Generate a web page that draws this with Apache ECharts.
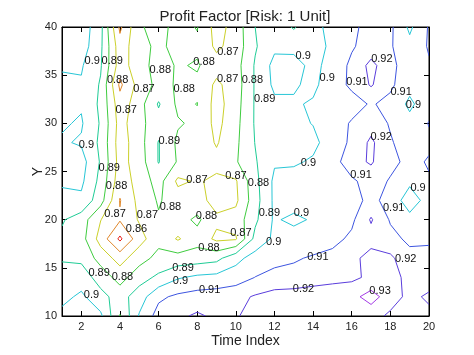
<!DOCTYPE html>
<html><head><meta charset="utf-8">
<script src="https://cdn.jsdelivr.net/npm/echarts@6/dist/echarts.min.js"></script>
<style>html,body{margin:0;padding:0;background:#fff}#c{width:474px;height:355px}</style>
</head><body><div id="c"></div>
<script>
// ---- data ----
const timeIndex = [1,2,3,4,5,6,7,8,9,10,11,12,13,14,15,16,17,18,19,20];
const yValues = [40,38,36,34,32,30,28,26,24,22,20,18,16,14,12,10];
const pfY40 = [.903,.906,.893,.858,.879,.883,.877,.8805,.866,.874,.890,.896,.889,.897,.903,.907,.915,.912,.898,.911];
const pfY38 = [.903,.905,.892,.864,.877,.882,.877,.878,.868,.874,.889,.898,.897,.896,.902,.909,.914,.911,.903,.911];
const pfY36 = [.901,.901,.891,.865,.876,.884,.879,.881,.874,.876,.891,.903,.904,.897,.904,.912,.923,.913,.904,.909];
const pfY34 = [.898,.899,.889,.858,.874,.883,.879,.878,.868,.875,.891,.902,.901,.898,.905,.912,.921,.912,.903,.910];
const pfY32 = [.898,.899,.888,.864,.876,.891,.878,.8802,.866,.876,.891,.898,.899,.901,.906,.906,.911,.907,.898,.906];
const pfY30 = [.899,.901,.889,.866,.877,.886,.881,.878,.867,.877,.891,.897,.898,.9003,.905,.911,.916,.909,.903,.9105];
const pfY28 = [.901,.899,.888,.865,.876,.8905,.878,.877,.869,.878,.8903,.898,.899,.898,.904,.912,.922,.911,.905,.908];
const pfY26 = [.903,.904,.889,.866,.875,.8905,.879,.877,.873,.879,.889,.899,.899,.901,.905,.917,.921,.913,.907,.911];
const pfY24 = [.902,.902,.887,.864,.874,.884,.868,.871,.868,.869,.887,.902,.903,.904,.903,.908,.915,.909,.902,.909];
const pfY22 = [.896,.898,.884,.8595,.873,.881,.875,.874,.866,.868,.886,.902,.906,.903,.901,.906,.913,.906,.895,.904];
const pfY20 = [.891,.885,.8703,.861,.871,.879,.876,.882,.872,.874,.888,.9015,.897,.9015,.903,.908,.921,.909,.903,.906];
const pfY18 = [.888,.884,.866,.848,.866,.877,.869,.876,.868,.869,.893,.902,.906,.905,.907,.912,.916,.913,.908,.909];
const pfY16 = [.8893,.888,.876,.866,.876,.883,.884,.885,.887,.897,.904,.907,.909,.911,.913,.917,.924,.922,.913,.912];
const pfY14 = [.893,.895,.886,.876,.886,.892,.899,.902,.903,.905,.9102,.913,.913,.915,.917,.918,.922,.925,.916,.914];
const pfY12 = [.897,.902,.893,.886,.895,.908,.912,.914,.915,.917,.921,.924,.925,.926,.926,.927,.934,.925,.917,.922];
const pfY10 = [.903,.905,.902,.8795,.901,.914,.918,.9215,.918,.919,.924,.925,.926,.926,.927,.925,.924,.918,.915,.917];
const levels = [0.85,0.86,0.87,0.88,0.89,0.9,0.91,0.92,0.93];
const xTickLabels = [2,4,6,8,10,12,14,16,18,20];

// ---- styles ----
const levelColors = ['#e8201c','#e0872a','#cbd02a','#3fcc3f','#1fcc96','#27c6d6','#3d55e0','#5a3ddc','#a43be6'];
const FONT = 'Liberation Sans, Arial, sans-serif';
const G = {left:62, right:45, top:27, bottom:39};

// ---- contour computation (marching squares) ----
const rows = [pfY40,pfY38,pfY36,pfY34,pfY32,pfY30,pfY28,pfY26,pfY24,pfY22,pfY20,pfY18,pfY16,pfY14,pfY12,pfY10];
const ys = yValues.slice().reverse();
const Z = rows.slice().reverse();
const xs = timeIndex;
const nx = xs.length, ny = ys.length;

function contour(L){
  const pt = {}, segs = [];
  const eH=(i,j)=>{const k='h'+i+'_'+j; if(!pt[k]){const a=Z[j][i],b=Z[j][i+1],t=(L-a)/(b-a); pt[k]=[xs[i]+t*(xs[i+1]-xs[i]), ys[j]];} return k;};
  const eV=(i,j)=>{const k='v'+i+'_'+j; if(!pt[k]){const a=Z[j][i],b=Z[j+1][i],t=(L-a)/(b-a); pt[k]=[xs[i], ys[j]+t*(ys[j+1]-ys[j])];} return k;};
  for(let j=0;j<ny-1;j++) for(let i=0;i<nx-1;i++){
    const z00=Z[j][i], z10=Z[j][i+1], z11=Z[j+1][i+1], z01=Z[j+1][i];
    const c=(z00>=L?1:0)|(z10>=L?2:0)|(z11>=L?4:0)|(z01>=L?8:0);
    if(c===0||c===15) continue;
    const B=()=>eH(i,j), T=()=>eH(i,j+1), Lf=()=>eV(i,j), R=()=>eV(i+1,j);
    const ctr=(z00+z10+z11+z01)/4>=L;
    switch(c){
      case 1: case 14: segs.push([Lf(),B()]); break;
      case 2: case 13: segs.push([B(),R()]); break;
      case 3: case 12: segs.push([Lf(),R()]); break;
      case 4: case 11: segs.push([R(),T()]); break;
      case 6: case 9: segs.push([B(),T()]); break;
      case 7: case 8: segs.push([Lf(),T()]); break;
      case 5: if(ctr){segs.push([B(),R()]);segs.push([Lf(),T()]);} else {segs.push([Lf(),B()]);segs.push([R(),T()]);} break;
      case 10: if(ctr){segs.push([Lf(),B()]);segs.push([R(),T()]);} else {segs.push([B(),R()]);segs.push([Lf(),T()]);} break;
    }
  }
  const adj={}; segs.forEach((s,k)=>{(adj[s[0]]=adj[s[0]]||[]).push(k);(adj[s[1]]=adj[s[1]]||[]).push(k);});
  const used=new Array(segs.length).fill(false), polys=[];
  for(let k=0;k<segs.length;k++){
    if(used[k]) continue; used[k]=true;
    const chain=[segs[k][0],segs[k][1]];
    let cur=chain[1];
    while(true){const n=(adj[cur]||[]).find(s=>!used[s]); if(n===undefined) break; used[n]=true; const o=segs[n][0]===cur?segs[n][1]:segs[n][0]; chain.push(o); cur=o; if(o===chain[0]) break;}
    if(chain[chain.length-1]!==chain[0]){
      cur=chain[0];
      while(true){const n=(adj[cur]||[]).find(s=>!used[s]); if(n===undefined) break; used[n]=true; const o=segs[n][0]===cur?segs[n][1]:segs[n][0]; chain.unshift(o); cur=o;}
    }
    polys.push(chain.map(q=>pt[q]));
  }
  return polys;
}
const polysByLevel = levels.map(contour);

// ---- automatic label placement along contours ----
const PW = 474-G.left-G.right, PH = 355-G.top-G.bottom;
const sx = PW/(xs[nx-1]-xs[0]), sy = PH/(ys[ny-1]-ys[0]);
const toPx = p=>[(p[0]-xs[0])*sx, (ys[ny-1]-p[1])*sy];
const fmt = l=>String(+l.toFixed(2));
const labelData = [], boxes = [];
const cand = [];
polysByLevel.forEach((polys,li)=>polys.forEach(poly=>{
  const px=poly.map(toPx); const cum=[0];
  for(let k=1;k<px.length;k++) cum.push(cum[k-1]+Math.hypot(px[k][0]-px[k-1][0],px[k][1]-px[k-1][1]));
  const L=cum[cum.length-1]; if(L<22) return;
  cand.push({li,poly,px,cum,L});
}));
cand.sort((a,b)=>b.L-a.L);
function pointAt(c,d){ let k=1; while(k<c.cum.length-1 && c.cum[k]<d) k++; const t=(d-c.cum[k-1])/Math.max(1e-9,c.cum[k]-c.cum[k-1]); const a=c.poly[k-1], b=c.poly[k]; return [a[0]+t*(b[0]-a[0]), a[1]+t*(b[1]-a[1])]; }
cand.forEach(c=>{
  const txt=fmt(levels[c.li]); const w=txt.length*6.1-3; const n=Math.max(1,Math.round(c.L/115));
  for(let m=0;m<n;m++){
    const base=(m+0.5)*c.L/n;
    for(const off of [0,10,-10,20,-20,32,-32,45,-45]){
      const d=base+off; if(d<0||d>c.L) continue;
      const p=pointAt(c,d); const q=toPx(p);
      const bx=[q[0],q[1]-6,q[0]+w,q[1]+6];
      if(bx[0]<2||bx[2]>PW-1||bx[1]<1||bx[3]>PH-1) continue;
      if(boxes.some(b=>!(bx[2]+1<b[0]||bx[0]>b[2]+1||bx[3]<b[1]||bx[1]>b[3]))) continue;
      boxes.push(bx); labelData.push([p[0],p[1],c.li]); break;
    }
  }
});

// ---- chart ----
const series = polysByLevel.map((polys,li)=>({
  type:'custom', coordinateSystem:'cartesian2d', xAxisIndex:0, yAxisIndex:0,
  data: polys.map(p=>[p[0][0],p[0][1]]), encode:{x:0,y:1}, silent:true, animation:false, clip:true,
  renderItem:(params,api)=>({type:'polyline', shape:{points: polys[params.dataIndex].map(p=>api.coord(p))},
    style:{stroke: levelColors[li], lineWidth:1, fill:null}})
}));
series.push({
  type:'custom', coordinateSystem:'cartesian2d', xAxisIndex:0, yAxisIndex:0,
  data: labelData, encode:{x:0,y:1}, silent:true, animation:false, z:5,
  renderItem:(params,api)=>{const d=labelData[params.dataIndex]; const c=api.coord([d[0],d[1]]);
    return {type:'text', x:c[0], y:c[1], style:{text: fmt(levels[d[2]]), fill:'#111', fontSize:11, fontFamily:FONT, align:'left', verticalAlign:'middle', textAlign:'left', textVerticalAlign:'middle'}};}
});

const axisCommon = {axisLine:{show:true, onZero:false, lineStyle:{color:'#000', width:1}}, splitLine:{show:false}};
const chart = echarts.init(document.getElementById('c'), null, {renderer:'canvas'});
chart.setOption({
  animation:false, backgroundColor:'#fff',
  title:{text:'Profit Factor [Risk: 1 Unit]', left:240, top:4, textAlign:'center', textStyle:{fontSize:15, fontWeight:'normal', color:'#222', fontFamily:FONT}},
  grid:{left:G.left, right:G.right, top:G.top, bottom:G.bottom, show:true, borderColor:'#000', borderWidth:1, backgroundColor:'#fff'},
  xAxis:[
    Object.assign({type:'value', min:1, max:20, position:'bottom', name:'Time Index', nameLocation:'middle', nameGap:18, nameMoveOverlap:false,
      nameTextStyle:{fontSize:14, color:'#222', fontFamily:FONT},
      axisTick:{inside:true, length:5, customValues:xTickLabels, lineStyle:{color:'#000'}},
      axisLabel:{customValues:xTickLabels, fontSize:11, color:'#222', fontFamily:FONT, margin:5}}, axisCommon),
    Object.assign({type:'value', min:1, max:20, position:'top',
      axisTick:{inside:true, length:5, customValues:xTickLabels, lineStyle:{color:'#000'}}, axisLabel:{show:false}}, axisCommon)
  ],
  yAxis:[
    Object.assign({type:'value', min:10, max:40, interval:5, position:'left', name:'Y', nameLocation:'middle', nameGap:17, nameRotate:90, nameMoveOverlap:false,
      nameTextStyle:{fontSize:14, color:'#222', fontFamily:FONT},
      axisTick:{inside:true, length:5, lineStyle:{color:'#000'}},
      axisLabel:{fontSize:11, color:'#222', fontFamily:FONT, margin:5}}, axisCommon),
    Object.assign({type:'value', min:10, max:40, interval:5, position:'right',
      axisTick:{inside:true, length:5, lineStyle:{color:'#000'}}, axisLabel:{show:false}}, axisCommon)
  ],
  series
});
</script></body></html>
